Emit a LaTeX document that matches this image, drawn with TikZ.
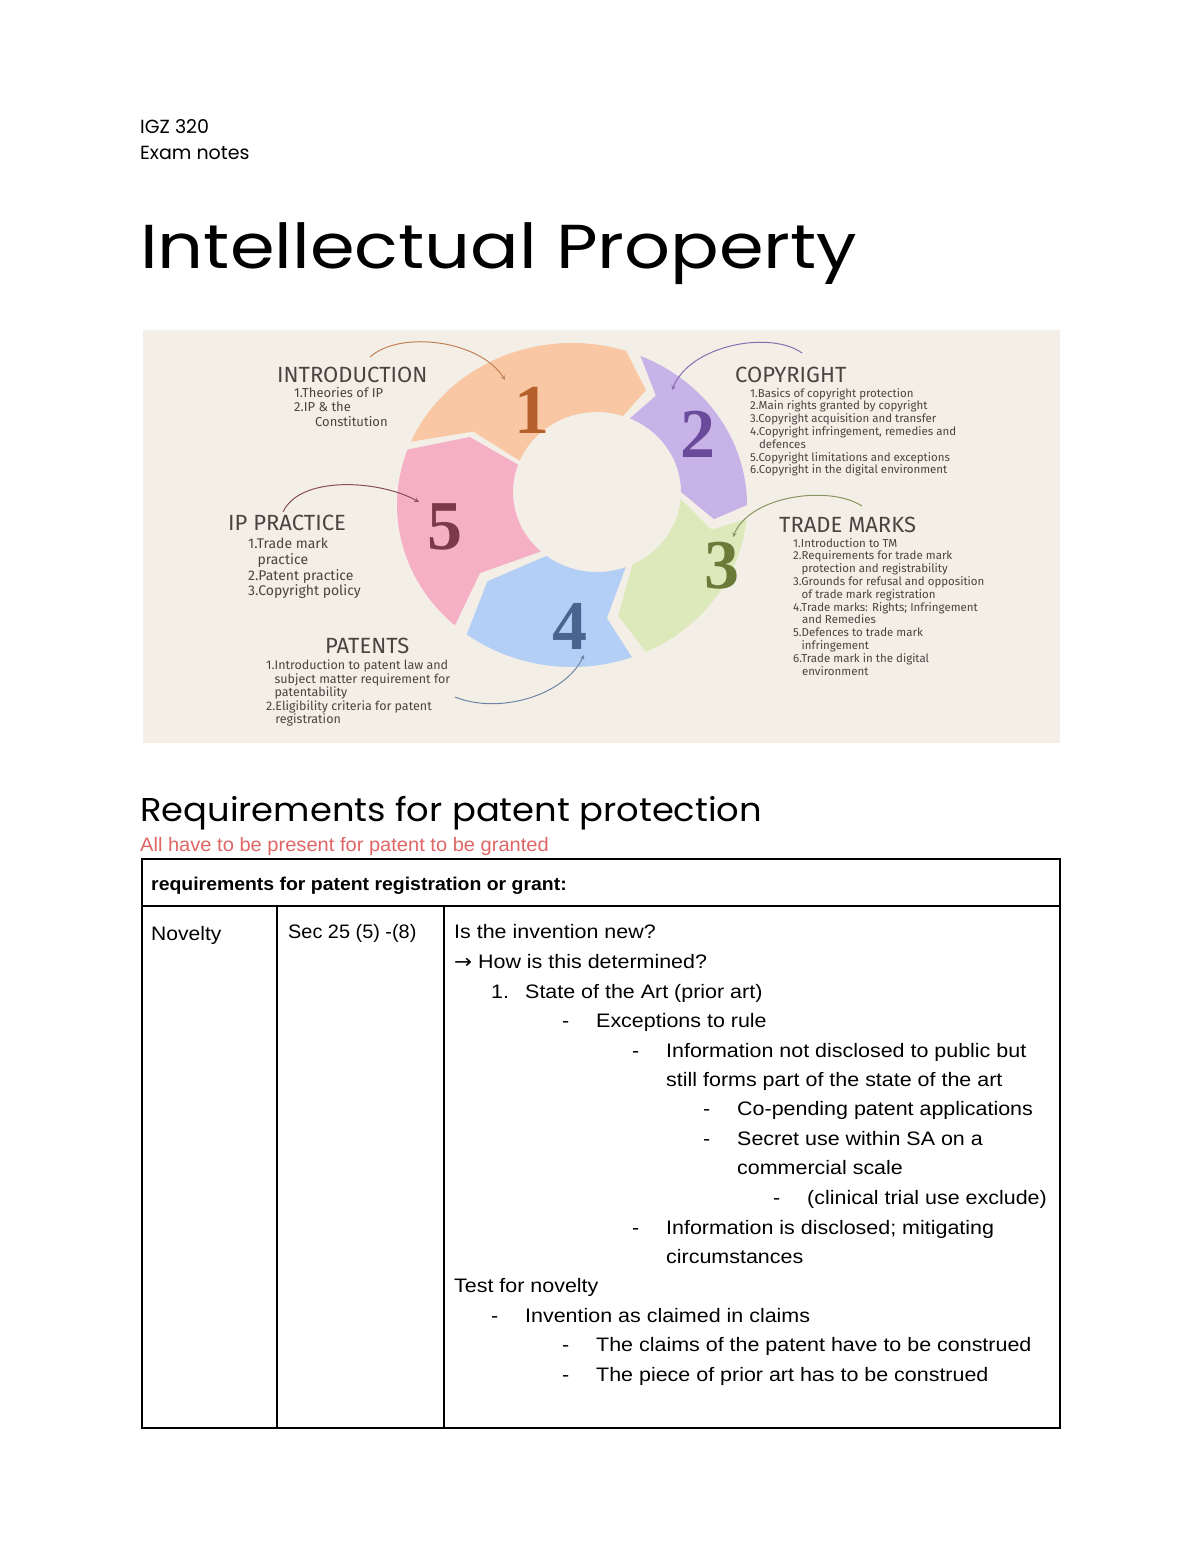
\documentclass[tikz,border=0pt]{standalone}
\usepackage{fontspec}
\usepackage{graphicx}
\setmainfont{Liberation Sans}
\newfontfamily\pop{Poppins}
\newfontfamily\hand{Fira Sans}
\newfontfamily\dejav{DejaVu Sans}
\newfontfamily\numfont{Liberation Serif}
\newcommand\wx[2][1.1]{\scalebox{#1}[1]{#2}}
\definecolor{bgimg}{HTML}{F3EFE6}
\definecolor{corange}{HTML}{F9C7A3}
\definecolor{cpurple}{HTML}{C8B3E9}
\definecolor{cgreen}{HTML}{DDE9BA}
\definecolor{cblue}{HTML}{B4CFF6}
\definecolor{cpink}{HTML}{F6B0C6}
\definecolor{norange}{HTML}{B5602A}
\definecolor{npurple}{HTML}{6A4A9A}
\definecolor{ngreen}{HTML}{6B7A38}
\definecolor{nblue}{HTML}{4A6490}
\definecolor{npink}{HTML}{7A3A4A}
\definecolor{txt}{HTML}{4A4440}
\definecolor{redtxt}{HTML}{E06666}
\begin{document}
\begin{tikzpicture}[x=1pt,y=1pt,
  lbl/.style={anchor=base west,inner sep=0pt},
  head/.style={lbl,font=\hand\fontsize{22}{22}\selectfont,text=txt},
  items/.style={lbl,font=\hand\fontsize{11.5}{13}\selectfont,text=txt,align=left,anchor=north west},
  num/.style={font=\bfseries\numfont\fontsize{70}{70}\selectfont},
  body/.style={lbl,font=\fontsize{19.5}{19.5}\selectfont},
  carr/.style={-stealth,line width=1pt}]
\useasboundingbox (0,0) rectangle (1200,-1553);
\fill[white] (0,0) rectangle (1200,-1553);
% header texts
\node[lbl,font=\pop\fontsize{19}{19}\selectfont] (c1) at (140,-133) {IGZ 320};
\node[lbl,font=\pop\fontsize{19}{19}\selectfont] (c2) at (140,-159) {Exam notes};
\node[lbl,font=\pop\fontsize{62}{62}\selectfont] (title) at (140,-268) {\wx[1.16]{Intellectual Property}};
% image
\fill[bgimg] (143,-330) rectangle (1060,-743);
\foreach \a/\b/\c in {157/72/corange, 67/0/cpurple, -5/-65/cgreen, -70/-127/cblue, -132/-200/cpink}{
  \pgfmathsetmacro\bb{\b-10}\pgfmathsetmacro\aa{\a-10}
  \fill[\c] ([shift={(572,-505)}]\a:175 and 162) arc[start angle=\a,end angle=\b,x radius=175,y radius=162]
    -- ([shift={(584,-498)}]\bb:132 and 122) -- ([shift={(597,-492)}]\b:84 and 80)
    arc[start angle=\b,end angle=\a,x radius=84,y radius=80] -- ([shift={(584,-498)}]\aa:132 and 122) -- cycle;
}
\node[num,text=norange] (n1) at (532,-410) {1};
\node[num,text=npurple] (n2) at (698,-434) {2};
\node[num,text=ngreen] (n3) at (722,-566) {3};
\node[num,text=nblue] (n4) at (570,-626) {4};
\node[num,text=npink] (n5) at (445,-527) {5};
% headings
\node[head] (h1) at (277,-382) {INTRODUCTION};
\node[items,font=\hand\fontsize{13}{14.5}\selectfont] (i1) at (294,-387) {1.Theories of IP\\2.IP \& the\\\phantom{2.IP}Constitution};
\node[head] (h2) at (735,-382) {COPYRIGHT};
\node[items,font=\hand\fontsize{11.5}{12.8}\selectfont] (i2) at (750,-388) {1.Basics of copyright protection\\2.Main rights granted by copyright\\3.Copyright acquisition and transfer\\4.Copyright infringement, remedies and\\\phantom{4.}defences\\5.Copyright limitations and exceptions\\6.Copyright in the digital environment};
\node[head] (h3) at (779,-532) {TRADE MARKS};
\node[items,font=\hand\fontsize{11.5}{12.8}\selectfont] (i3) at (793,-538) {1.Introduction to TM\\2.Requirements for trade mark\\\phantom{2.}protection and registrability\\3.Grounds for refusal and opposition\\\phantom{3.}of trade mark registration\\4.Trade marks: Rights; Infringement\\\phantom{4.}and Remedies\\5.Defences to trade mark\\\phantom{5.}infringement\\6.Trade mark in the digital\\\phantom{6.}environment};
\node[head] (h5) at (228,-530) {IP PRACTICE};
\node[items,font=\hand\fontsize{14}{15.7}\selectfont] (i5) at (248,-538) {1.Trade mark\\\phantom{1.}practice\\2.Patent practice\\3.Copyright policy};
\node[head] (h4) at (325,-653) {PATENTS};
\node[items,font=\hand\fontsize{12.5}{13.5}\selectfont] (i4) at (266,-660) {1.Introduction to patent law and\\\phantom{1.}subject matter requirement for\\\phantom{1.}patentability\\2.Eligibility criteria for patent\\\phantom{2.}registration};
% curved arrows
\coordinate (a1s) at (370,-357); \coordinate (a1e) at (505,-380);
\draw[carr,draw=norange!80] (a1s) .. controls (400,-330) and (480,-340) .. (a1e);
\coordinate (a2s) at (802,-353); \coordinate (a2e) at (672,-390);
\draw[carr,draw=npurple!80] (a2s) .. controls (770,-330) and (690,-345) .. (a2e);
\coordinate (a3s) at (862,-506); \coordinate (a3e) at (733,-537);
\draw[carr,draw=ngreen!80] (a3s) .. controls (830,-485) and (750,-495) .. (a3e);
\coordinate (a4s) at (455,-697); \coordinate (a4e) at (584,-655);
\draw[carr,draw=nblue!80] (a4s) .. controls (500,-715) and (565,-695) .. (a4e);
\coordinate (a5s) at (283,-512); \coordinate (a5e) at (419,-502);
\draw[carr,draw=npink!90] (a5s) .. controls (300,-475) and (380,-480) .. (a5e);
% section
\node[lbl,font=\pop\fontsize{33}{33}\selectfont] (sec) at (140,-821) {\wx[1.07]{Requirements for patent protection}};
\node[lbl,font=\fontsize{19.5}{19.5}\selectfont,text=redtxt] (sub) at (140,-851) {\wx[1.03]{All have to be present for patent to be granted}};
% table
\draw[line width=1.6pt] (142,-859) rectangle (1060,-1428);
\draw[line width=1.6pt] (142,-906) -- (1060,-906);
\draw[line width=1.6pt] (277,-906) -- (277,-1428);
\draw[line width=1.6pt] (444,-906) -- (444,-1428);
\node[lbl,font=\bfseries\fontsize{18.5}{18.5}\selectfont] (th) at (151,-890) {\wx[1.05]{requirements for patent registration or grant:}};
\node[body] (nov) at (151,-940) {\wx[1.08]{Novelty}};
\node[body] (secn) at (288,-938) {\wx[1.02]{Sec 25 (5) -(8)}};
\foreach \x/\y/\t in {
 454/938/{Is the invention new?},
 454/968/{{\dejav\char"2192}\ How is this determined?},
 491/998/{1.},525/998/{State of the Art (prior art)},
 562/1027/{-},596/1027/{Exceptions to rule},
 632/1057/{-},666/1057/{Information not disclosed to public but},
 666/1086/{still forms part of the state of the art},
 703/1115/{-},737/1115/{Co-pending patent applications},
 703/1145/{-},737/1145/{Secret use within SA on a},
 737/1174/{commercial scale},
 773/1204/{-},807/1204/{(clinical trial use exclude)},
 632/1234/{-},666/1234/{Information is disclosed; mitigating},
 666/1263/{circumstances},
 454/1292/{Test for novelty},
 491/1322/{-},525/1322/{Invention as claimed in claims},
 562/1351/{-},596/1351/{The claims of the patent have to be construed},
 562/1381/{-},596/1381/{The piece of prior art has to be construed}}{
 \node[body] at (\x,-\y) {\wx{\t}};
}
\end{tikzpicture}
\end{document}
